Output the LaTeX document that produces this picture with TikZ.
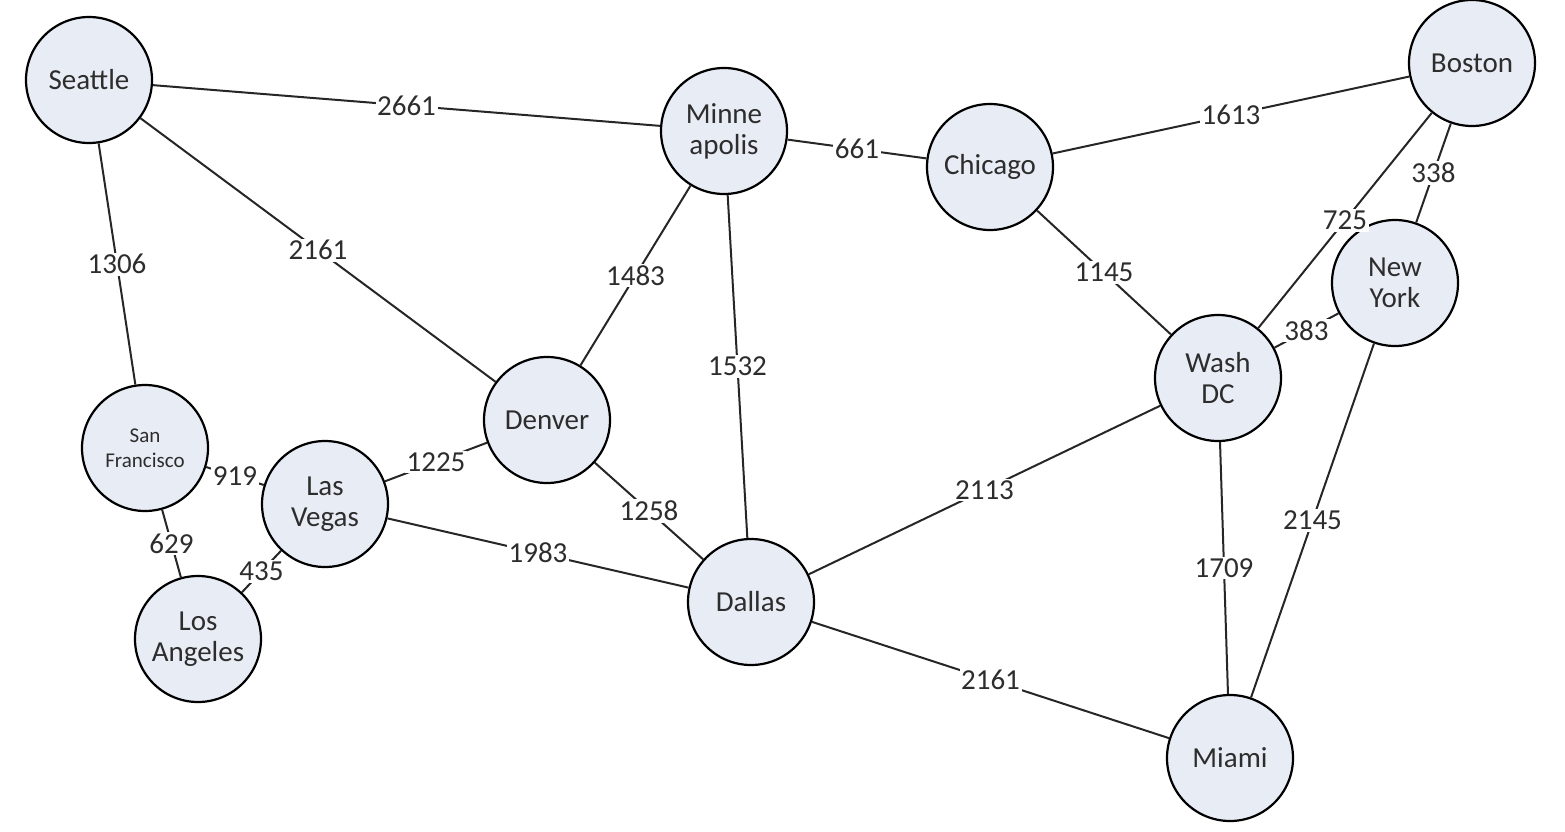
\documentclass[tikz,border=0pt]{standalone}
\usepackage{fontspec}
\setmainfont{Carlito}
\usepackage{xcolor}
\usepackage{tikz}

\definecolor{cityfill}{RGB}{232,236,245}
\definecolor{citytext}{RGB}{45,45,45}

\tikzset{
    city/.style={circle, draw=black, line width=1.1pt, fill=cityfill, text=citytext,
        minimum size=63pt, inner sep=0pt, align=center,
        font=\fontsize{14.5}{15.5}\selectfont},
    road/.style={line width=1pt, draw=black!85},
    weight/.style={fill=white, inner sep=0.8pt, text=citytext,
        font=\fontsize{14.5}{16}\selectfont}
}

\begin{document}
\begin{tikzpicture}[x=0.5pt,y=-0.5pt]

\useasboundingbox (0,0) rectangle (1565,831);

% --------------------------------------------------
% West
% --------------------------------------------------
\node[city] (sea) at (89,80) {Seattle};
\node[city, font=\fontsize{10.5}{12.5}\selectfont] (sf) at (145,448) {San\\Francisco};
\node[city] (lv) at (325,504) {Las\\Vegas};
\node[city] (la) at (198,639) {Los\\Angeles};
\node[city] (den) at (547,420) {Denver};

% --------------------------------------------------
% Middle
% --------------------------------------------------
\node[city] (min) at (724,131) {Minne\\apolis};
\node[city] (chi) at (990,167) {Chicago};
\node[city] (dal) at (751,602) {Dallas};

% --------------------------------------------------
% East
% --------------------------------------------------
\node[city] (bos) at (1472,63) {Boston};
\node[city] (ny) at (1395,283) {New\\York};
\node[city] (dc) at (1218,378) {Wash\\DC};
\node[city] (mia) at (1230,758) {Miami};

% --------------------------------------------------
% Roads with distances
% --------------------------------------------------
\draw[road] (sea) -- node[weight] {2661} (min);
\draw[road] (sea) -- node[weight] {1306} (sf);
\draw[road] (sea) -- node[weight] {2161} (den);
\draw[road] (min) -- node[weight] {661} (chi);
\draw[road] (min) -- node[weight] {1483} (den);
\draw[road] (min) -- node[weight] {1532} (dal);
\draw[road] (chi) -- node[weight] {1613} (bos);
\draw[road] (chi) -- node[weight] {1145} (dc);
\draw[road] (bos) -- node[weight] {338} (ny);
\draw[road] (bos) -- node[weight] {725} (dc);
\draw[road] (dc) -- node[weight] {383} (ny);
\draw[road] (sf) -- node[weight] {919} (lv);
\draw[road] (sf) -- node[weight] {629} (la);
\draw[road] (la) -- node[weight] {435} (lv);
\draw[road] (lv) -- node[weight] {1225} (den);
\draw[road] (lv) -- node[weight] {1983} (dal);
\draw[road] (den) -- node[weight] {1258} (dal);
\draw[road] (dal) -- node[weight] {2113} (dc);
\draw[road] (dal) -- node[weight] {2161} (mia);
\draw[road] (dc) -- node[weight] {1709} (mia);
\draw[road] (ny) -- node[weight] {2145} (mia);

\end{tikzpicture}
\end{document}
